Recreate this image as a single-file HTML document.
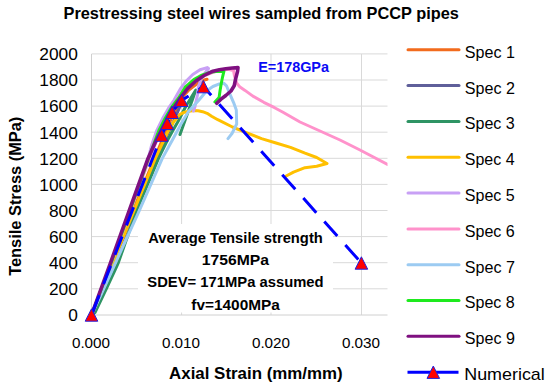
<!DOCTYPE html>
<html><head><meta charset="utf-8"><style>
html,body{margin:0;padding:0;background:#fff;width:550px;height:387px;overflow:hidden}
svg{display:block}
text{font-family:"Liberation Sans", sans-serif}
</style></head><body>
<svg width="550" height="387" viewBox="0 0 550 387">
<defs><clipPath id="pc"><rect x="0" y="40" width="387.5" height="290"/></clipPath></defs>
<rect width="550" height="387" fill="#fff"/>
<line x1="91.5" y1="53.90" x2="387.5" y2="53.90" stroke="#D9D9D9" stroke-width="1"/><line x1="91.5" y1="80.00" x2="387.5" y2="80.00" stroke="#D9D9D9" stroke-width="1"/><line x1="91.5" y1="106.10" x2="387.5" y2="106.10" stroke="#D9D9D9" stroke-width="1"/><line x1="91.5" y1="132.20" x2="387.5" y2="132.20" stroke="#D9D9D9" stroke-width="1"/><line x1="91.5" y1="158.30" x2="387.5" y2="158.30" stroke="#D9D9D9" stroke-width="1"/><line x1="91.5" y1="184.40" x2="387.5" y2="184.40" stroke="#D9D9D9" stroke-width="1"/><line x1="91.5" y1="210.50" x2="387.5" y2="210.50" stroke="#D9D9D9" stroke-width="1"/><line x1="91.5" y1="236.60" x2="387.5" y2="236.60" stroke="#D9D9D9" stroke-width="1"/><line x1="91.5" y1="262.70" x2="387.5" y2="262.70" stroke="#D9D9D9" stroke-width="1"/><line x1="91.5" y1="288.80" x2="387.5" y2="288.80" stroke="#D9D9D9" stroke-width="1"/><line x1="181.6" y1="54" x2="181.6" y2="315" stroke="#D9D9D9" stroke-width="1"/><line x1="271.0" y1="54" x2="271.0" y2="315" stroke="#D9D9D9" stroke-width="1"/><line x1="361.5" y1="54" x2="361.5" y2="315" stroke="#D9D9D9" stroke-width="1"/><line x1="91.5" y1="54" x2="91.5" y2="315.5" stroke="#D0D0D0" stroke-width="1"/><line x1="91.5" y1="315" x2="387.5" y2="315" stroke="#D0D0D0" stroke-width="1"/><rect x="138" y="224" width="195" height="88.5" fill="#fff"/>
<g clip-path="url(#pc)"><polyline points="91.5,315.0 112.0,262.8 133.0,210.6 154.5,158.4 165.5,132.3 171.5,118.0 177.4,107.0 183.0,96.5 188.8,90.0 196.0,84.6 200.1,82.0 203.5,80.3 207.0,79.2" fill="none" stroke="#F26B1D" stroke-width="3" stroke-linejoin="round" stroke-linecap="round" /><polyline points="91.5,315.0 113.0,262.8 135.0,210.6 156.5,158.4 168.5,132.3 175.5,117.0 181.0,104.0" fill="none" stroke="#5F5F9A" stroke-width="3" stroke-linejoin="round" stroke-linecap="round" /><polyline points="91.5,315.0 95.0,312.6 106.3,288.9 115.0,270.0 118.3,262.8 136.6,210.6 158.5,158.4 166.0,143.0 172.0,132.0 178.3,121.0 186.0,106.0 195.8,90.0 187.5,113.5 180.0,134.5" fill="none" stroke="#2E9464" stroke-width="3" stroke-linejoin="round" stroke-linecap="round" /><polyline points="91.5,315.0 113.0,262.8 134.0,210.6 155.3,158.4 167.6,132.3 173.5,122.0 180.0,114.4 184.5,112.2 189.0,111.2 193.6,110.6 198.1,110.8 202.6,111.7 207.1,113.3 211.6,116.2 217.8,119.7 232.4,127.0 246.9,132.8 261.5,138.6 276.0,143.0 290.5,147.4 305.0,153.2 316.7,157.5 327.0,163.5 316.7,166.3 305.0,167.7 293.5,172.1 286.2,176.0" fill="none" stroke="#FFC000" stroke-width="3" stroke-linejoin="round" stroke-linecap="round" /><polyline points="91.5,315.0 111.2,262.8 130.0,210.6 148.2,158.4 151.7,145.0 156.8,130.3 162.6,118.6 169.4,106.8 174.1,100.0 180.3,89.0 186.5,80.7 192.8,74.5 200.0,69.8 207.2,67.6 208.5,68.5 202.0,77.0 198.5,86.0 197.5,95.0 194.7,107.6 193.5,111.0" fill="none" stroke="#C8A0F5" stroke-width="3" stroke-linejoin="round" stroke-linecap="round" /><polyline points="91.5,315.0 111.5,262.8 130.5,210.6 149.5,158.4 160.0,132.3 172.0,108.0 182.0,93.0 192.0,83.0 203.0,76.0 215.0,71.5 228.0,69.3 233.5,70.5 234.5,76.0 236.8,83.3 240.0,87.1 245.0,90.4 252.9,96.1 263.8,102.3 274.6,107.7 283.0,112.2 300.0,122.0 320.0,131.0 340.0,140.0 360.0,150.0 387.5,164.4" fill="none" stroke="#FF92CB" stroke-width="3" stroke-linejoin="round" stroke-linecap="round" /><polyline points="91.5,315.0 103.7,288.9 115.5,262.8 139.3,210.6 162.3,158.4 173.5,138.0 181.0,124.0 188.5,111.5 199.0,100.0 206.5,91.0 212.9,86.5 219.4,83.9 223.9,83.3 226.5,85.8 229.7,93.6 233.6,102.6 236.3,110.0 236.7,124.0 232.0,133.5 228.0,138.6" fill="none" stroke="#9CCBF2" stroke-width="3" stroke-linejoin="round" stroke-linecap="round" /><polyline points="91.5,315.0 111.2,262.8 130.0,210.6 148.5,158.4 153.5,145.0 158.8,130.8 164.8,119.0 171.5,107.5 178.3,98.5 185.5,86.9 193.8,79.6 201.0,75.5 210.0,72.3 218.0,71.2 223.9,71.4 222.6,76.8 221.3,83.3 220.0,91.0 219.1,97.5 214.9,102.0" fill="none" stroke="#1EEA1E" stroke-width="3" stroke-linejoin="round" stroke-linecap="round" /><polyline points="91.5,315.0 110.5,262.8 129.2,210.6 148.0,158.4 155.0,143.0 160.5,132.0 166.5,120.0 173.0,109.0 180.3,98.0 187.6,88.5 195.9,81.0 204.1,75.5 212.9,71.2 219.4,69.7 225.8,68.7 232.3,68.0 238.0,67.6 237.5,71.6 235.5,79.4 234.2,85.8 231.0,91.0 225.8,95.5 220.7,99.4 216.8,103.3" fill="none" stroke="#7F1080" stroke-width="3.6" stroke-linejoin="round" stroke-linecap="round" /><path d="M91.5,315.0 L161.7,135.1 L167.2,123.4 L172.0,112.3 L181.6,100.4 L203.4,86.6" fill="none" stroke="#0000FF" stroke-width="3" stroke-dasharray="19.5 12" stroke-dashoffset="29.8"/><path d="M203.4,86.6 L361.4,263" fill="none" stroke="#0000FF" stroke-width="3" stroke-dasharray="19.5 12" stroke-dashoffset="7.8"/><polygon points="91.5,308.8 97.8,321.2 85.2,321.2" fill="#FF0000" stroke="#2020E0" stroke-width="1" stroke-linejoin="miter"/><polygon points="161.7,128.9 168.0,141.3 155.4,141.3" fill="#FF0000" stroke="#2020E0" stroke-width="1" stroke-linejoin="miter"/><polygon points="167.2,117.2 173.5,129.6 160.9,129.6" fill="#FF0000" stroke="#2020E0" stroke-width="1" stroke-linejoin="miter"/><polygon points="172.0,106.1 178.3,118.5 165.7,118.5" fill="#FF0000" stroke="#2020E0" stroke-width="1" stroke-linejoin="miter"/><polygon points="181.6,94.2 187.9,106.6 175.3,106.6" fill="#FF0000" stroke="#2020E0" stroke-width="1" stroke-linejoin="miter"/><polygon points="203.4,80.4 209.7,92.8 197.1,92.8" fill="#FF0000" stroke="#2020E0" stroke-width="1" stroke-linejoin="miter"/><polygon points="361.4,256.8 367.7,269.2 355.1,269.2" fill="#FF0000" stroke="#2020E0" stroke-width="1" stroke-linejoin="miter"/></g>
<g font-family='"Liberation Sans", sans-serif'>
<text x="63.51" y="19.10" font-size="16.4" font-weight="bold" textLength="395.36" lengthAdjust="spacingAndGlyphs" fill="#000" >Prestressing steel wires sampled from PCCP pipes</text><text x="39.34" y="60.20" font-size="16.5" font-weight="normal" textLength="38.54" lengthAdjust="spacingAndGlyphs" fill="#000" >2000</text><text x="39.34" y="86.30" font-size="16.5" font-weight="normal" textLength="38.54" lengthAdjust="spacingAndGlyphs" fill="#000" >1800</text><text x="39.34" y="112.40" font-size="16.5" font-weight="normal" textLength="38.54" lengthAdjust="spacingAndGlyphs" fill="#000" >1600</text><text x="39.34" y="138.50" font-size="16.5" font-weight="normal" textLength="38.54" lengthAdjust="spacingAndGlyphs" fill="#000" >1400</text><text x="39.34" y="164.60" font-size="16.5" font-weight="normal" textLength="38.54" lengthAdjust="spacingAndGlyphs" fill="#000" >1200</text><text x="39.34" y="190.70" font-size="16.5" font-weight="normal" textLength="38.54" lengthAdjust="spacingAndGlyphs" fill="#000" >1000</text><text x="48.97" y="216.80" font-size="16.5" font-weight="normal" textLength="28.91" lengthAdjust="spacingAndGlyphs" fill="#000" >800</text><text x="48.97" y="242.90" font-size="16.5" font-weight="normal" textLength="28.91" lengthAdjust="spacingAndGlyphs" fill="#000" >600</text><text x="48.97" y="269.00" font-size="16.5" font-weight="normal" textLength="28.91" lengthAdjust="spacingAndGlyphs" fill="#000" >400</text><text x="48.97" y="295.10" font-size="16.5" font-weight="normal" textLength="28.91" lengthAdjust="spacingAndGlyphs" fill="#000" >200</text><text x="68.24" y="321.20" font-size="16.5" font-weight="normal" textLength="9.64" lengthAdjust="spacingAndGlyphs" fill="#000" >0</text><text x="71.90" y="348.00" font-size="15.5" font-weight="normal" textLength="38.19" lengthAdjust="spacingAndGlyphs" fill="#000" >0.000</text><text x="161.90" y="348.00" font-size="15.5" font-weight="normal" textLength="38.19" lengthAdjust="spacingAndGlyphs" fill="#000" >0.010</text><text x="251.90" y="348.00" font-size="15.5" font-weight="normal" textLength="38.19" lengthAdjust="spacingAndGlyphs" fill="#000" >0.020</text><text x="341.90" y="348.00" font-size="15.5" font-weight="normal" textLength="38.19" lengthAdjust="spacingAndGlyphs" fill="#000" >0.030</text><text x="169.08" y="378.90" font-size="16.2" font-weight="bold" textLength="173.56" lengthAdjust="spacingAndGlyphs" fill="#000" >Axial Strain (mm/mm)</text><text transform="translate(21.4,275.70) rotate(-90)" x="-0.18" y="0" font-size="16.4" font-weight="bold" textLength="159.19" lengthAdjust="spacingAndGlyphs" fill="#000">Tensile Stress (MPa)</text><line x1="408" y1="49.80" x2="459" y2="49.80" stroke="#F26B1D" stroke-width="3" stroke-linecap="round"/><text x="464.77" y="57.70" font-size="16.4" font-weight="normal" textLength="50.12" lengthAdjust="spacingAndGlyphs" fill="#000" >Spec 1</text><line x1="408" y1="85.62" x2="459" y2="85.62" stroke="#5F5F9A" stroke-width="3" stroke-linecap="round"/><text x="464.77" y="93.52" font-size="16.4" font-weight="normal" textLength="50.14" lengthAdjust="spacingAndGlyphs" fill="#000" >Spec 2</text><line x1="408" y1="121.44" x2="459" y2="121.44" stroke="#2E9464" stroke-width="3" stroke-linecap="round"/><text x="464.77" y="129.34" font-size="16.4" font-weight="normal" textLength="50.04" lengthAdjust="spacingAndGlyphs" fill="#000" >Spec 3</text><line x1="408" y1="157.26" x2="459" y2="157.26" stroke="#FFC000" stroke-width="3" stroke-linecap="round"/><text x="464.77" y="165.16" font-size="16.4" font-weight="normal" textLength="49.79" lengthAdjust="spacingAndGlyphs" fill="#000" >Spec 4</text><line x1="408" y1="193.08" x2="459" y2="193.08" stroke="#C8A0F5" stroke-width="3" stroke-linecap="round"/><text x="464.77" y="200.98" font-size="16.4" font-weight="normal" textLength="50.00" lengthAdjust="spacingAndGlyphs" fill="#000" >Spec 5</text><line x1="408" y1="228.90" x2="459" y2="228.90" stroke="#FF92CB" stroke-width="3" stroke-linecap="round"/><text x="464.77" y="236.80" font-size="16.4" font-weight="normal" textLength="50.04" lengthAdjust="spacingAndGlyphs" fill="#000" >Spec 6</text><line x1="408" y1="264.72" x2="459" y2="264.72" stroke="#9CCBF2" stroke-width="3" stroke-linecap="round"/><text x="464.77" y="272.62" font-size="16.4" font-weight="normal" textLength="50.14" lengthAdjust="spacingAndGlyphs" fill="#000" >Spec 7</text><line x1="408" y1="300.54" x2="459" y2="300.54" stroke="#1EEA1E" stroke-width="3" stroke-linecap="round"/><text x="464.77" y="308.44" font-size="16.4" font-weight="normal" textLength="50.03" lengthAdjust="spacingAndGlyphs" fill="#000" >Spec 8</text><line x1="408" y1="336.36" x2="459" y2="336.36" stroke="#7F1080" stroke-width="3" stroke-linecap="round"/><text x="464.77" y="344.26" font-size="16.4" font-weight="normal" textLength="50.09" lengthAdjust="spacingAndGlyphs" fill="#000" >Spec 9</text><line x1="407.5" y1="372.18" x2="458.5" y2="372.18" stroke="#0000FF" stroke-width="3"/><polygon points="433.3,366.0 439.6,378.4 427.0,378.4" fill="#FF0000" stroke="#2020E0" stroke-width="1" stroke-linejoin="miter"/><text x="464.23" y="379.88" font-size="16.4" font-weight="normal" textLength="80.57" lengthAdjust="spacingAndGlyphs" fill="#000" >Numerical</text><text x="148.24" y="242.70" font-size="14.2" font-weight="bold" textLength="174.57" lengthAdjust="spacingAndGlyphs" fill="#000" >Average Tensile strength</text><text x="201.81" y="264.80" font-size="14.2" font-weight="bold" textLength="67.19" lengthAdjust="spacingAndGlyphs" fill="#000" >1756MPa</text><text x="147.27" y="287.30" font-size="14.2" font-weight="bold" textLength="176.30" lengthAdjust="spacingAndGlyphs" fill="#000" >SDEV= 171MPa assumed</text><text x="191.34" y="309.50" font-size="14.2" font-weight="bold" textLength="88.57" lengthAdjust="spacingAndGlyphs" fill="#000" >fv=1400MPa</text><text x="258.14" y="71.50" font-size="14.6" font-weight="bold" textLength="70.87" lengthAdjust="spacingAndGlyphs" fill="#0A0AF5" >E=178GPa</text>
</g>
</svg>
</body></html>
